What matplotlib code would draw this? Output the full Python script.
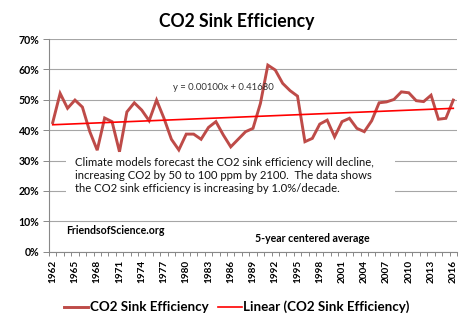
import numpy as np
import matplotlib
matplotlib.use('Agg')
import matplotlib.pyplot as plt
from matplotlib.ticker import FuncFormatter

# 5-year centered average of the CO2 sink efficiency, 1962-2016 (%)
years = list(range(1962, 2017))
sink_eff = [42.5, 52.1, 47.2, 49.9, 47.6, 39.5, 33.4, 44.0, 42.8, 32.9,
            46.0, 49.0, 46.6, 43.1, 49.9, 43.9, 37.0, 33.5, 38.7, 38.7,
            37.0, 40.9, 42.8, 38.4, 34.5, 37.0, 39.5, 40.6, 48.8, 61.4,
            59.8, 55.4, 53.0, 51.2, 36.2, 37.3, 42.0, 43.3, 37.8, 42.8,
            43.9, 40.6, 39.5, 43.1, 49.0, 49.3, 50.1, 52.6, 52.3, 49.7,
            49.4, 51.5, 43.6, 43.9, 49.9]
year_labels = [str(y) for y in years[::3]]

# linear trend as fitted in the spreadsheet (x = 1..n)
slope = 0.00100
intercept = 0.41680

plt.rcParams['font.family'] = ['Lato', 'DejaVu Sans']

fig = plt.figure(figsize=(4.74, 3.26), dpi=100)
ax = fig.add_axes([49/474, 1-251.7/326, (457-49)/474, (251.7-39)/326])

idx = np.arange(len(years))
vals = np.array(sink_eff) / 100.0
trend = slope * (idx + 1) + intercept

ax.plot(idx, vals, color='#BE4B48', lw=2.1, solid_joinstyle='miter',
        label='CO2 Sink Efficiency', zorder=3)
ax.plot(idx, trend, color='#FF0000', lw=1.2,
        label='Linear (CO2 Sink Efficiency)', zorder=4)

ax.set_xlim(-0.5, len(years) - 0.5)
ax.set_ylim(0, 0.70)
ax.set_yticks(np.arange(0, 0.71, 0.1))
ax.yaxis.set_major_formatter(FuncFormatter(lambda v, p: '%d%%' % round(v * 100)))
ax.grid(axis='y', color='#A6A6A6', lw=0.8, zorder=0)

ax.set_xticks(idx[::3])
ax.set_xticklabels(year_labels, rotation=90, fontweight='bold', fontsize=7.2)
ax.set_xticks(np.arange(-0.5, len(years), 1), minor=True)
ax.tick_params(axis='x', which='major', length=0, pad=6)
ax.tick_params(axis='x', which='minor', length=3, color='#888888', width=0.7)
ax.tick_params(axis='y', length=4, color='#888888', width=0.7, pad=3)
for lab in ax.get_yticklabels():
    lab.set_fontweight('bold')
    lab.set_fontsize(7.6)

for s in ['top', 'right']:
    ax.spines[s].set_visible(False)
for s in ['left', 'bottom']:
    ax.spines[s].set_color('#888888')
    ax.spines[s].set_linewidth(0.8)

fig.text(0.5, 1-22/326, 'CO2 Sink Efficiency', ha='center', va='center',
         fontsize=12.7, fontweight='bold')

ax.text(173/474, 1-87/326, 'y = 0.00100x + 0.41680', transform=fig.transFigure,
        ha='left', va='center', fontsize=6.8, color='#333333', zorder=5)

# white note box over the plot area
box = plt.Rectangle((66/474, 1-206/326), (395-66)/474, (206-153)/326,
                    transform=fig.transFigure, facecolor='white',
                    edgecolor='none', zorder=5)
ax.add_patch(box)
box.set_clip_on(False)
note = ('Climate models forecast the CO2 sink efficiency will decline,\n'
        'increasing CO2 by 50 to 100 ppm by 2100.  The data shows\n'
        'the CO2 sink efficiency is increasing by 1.0%/decade.')
ax.text(75/474, 1-157/326, note, transform=fig.transFigure, ha='left', va='top',
        fontsize=8.1, linespacing=1.25, color='#111111', zorder=6)

ax.text(66/474, 1-231/326, 'FriendsofScience.org', transform=fig.transFigure,
        ha='left', va='center', fontsize=7.6, fontweight='bold', zorder=6)
ax.text(255/474, 1-239/326, '5-year centered average', transform=fig.transFigure,
        ha='left', va='center', fontsize=7.6, fontweight='bold', zorder=6)

fig.legend(loc='center', bbox_to_anchor=(0.5, 1-307/326), ncol=2, frameon=False,
           prop={'weight': 'bold', 'size': 9.6}, handlelength=1.8,
           handletextpad=0.1, columnspacing=0.7)

fig.savefig('out.png', dpi=100)
